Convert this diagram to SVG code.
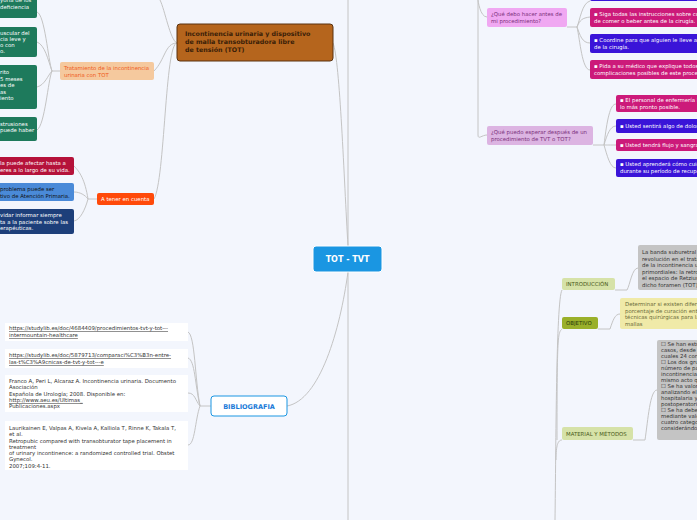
<svg xmlns="http://www.w3.org/2000/svg" width="697" height="520" viewBox="0 0 697 520">
<style>
text{font-family:"DejaVu Sans",Verdana,sans-serif;font-size:5.4px}
.c{fill:none;stroke:#c4c4c4;stroke-width:1}
.w{fill:#fff}
.b{font-weight:bold}
</style>
<rect width="697" height="520" fill="#f3f6fd"/>
<g id="connectors">
<path class="c" d="M348 0V520" stroke-width="1.5"/>
<path class="c" d="M348 246C344 180 340 60 333 43"/>
<path class="c" d="M348 272C340 330 320 400 287 406"/>
<path class="c" d="M177 43C165 43 165 60 154 71M177 43C165 43 165 180 154 199M177 43C170 40 165 10 160 0"/>
<path class="c" d="M60 71H52M52 71C48 60 45 15 37 12M52 71C48 60 45 45 37 42M52 71C48 75 45 85 37 87M52 71C48 80 45 125 37 130"/>
<path class="c" d="M97 199H88M88 199C85 180 80 172 74 166M88 199C85 195 80 192 74 192M88 199C85 210 80 220 74 221"/>
<path class="c" d="M211 406H200M200 406C195 380 195 335 188 332M200 406C195 385 195 360 188 358M200 406C195 400 195 393 188 393M200 406C195 420 195 445 188 445"/>
<path class="c" d="M487 17C480 17 478 0 478 0M478 0V135C478 140 482 135 487 135"/>
<path class="c" d="M567 27H577M577 27C580 20 582 3 590 1M577 27C580 20 582 18 590 17M577 27C580 35 582 43 590 43M577 27C580 40 582 70 590 70"/>
<path class="c" d="M593 145H604M604 145C607 120 610 104 616 104M604 145C607 135 610 126 616 126M604 145C607 145 610 145 616 145M604 145C607 155 610 168 616 168"/>
<path class="c" d="M555 520C556 450 556 300 562 290M557 440C557 332 558 333 562 329M556 460C556 445 558 440 562 440"/>
<path class="c" d="M615 290H627M627 290C630 285 632 268 638 268M598 329H610M610 329C613 320 615 314 620 314M633 440H645M645 440C648 420 650 390 657 390"/>
</g>
<g id="center"><rect x="313" y="246" width="69" height="26" rx="3" fill="#1a96e2" stroke="#fff" stroke-width="1"/><text x="347.5" y="262" text-anchor="middle" class="b" fill="#fff" style="font-size:8px">TOT - TVT</text></g>
<g id="incont"><rect x="177" y="24" width="156" height="37" rx="3" fill="#b5651d" stroke="#5a3210"/><text x="185" y="36" class="b" fill="#3a2008" style="font-size:6.3px"><tspan x="185">Incontinencia urinaria y dispositivo</tspan><tspan x="185" dy="8">de malla transobturadora libre</tspan><tspan x="185" dy="8">de tensión (TOT)</tspan></text></g>
<g id="trat"><rect x="60" y="62" width="94" height="18" rx="2" fill="#f5c99e"/><text fill="#ef5a21"><tspan x="64" y="69.5">Tratamiento de la incontinencia</tspan><tspan x="64" dy="7">urinaria con TOT</tspan></text></g>
<g id="g1"><rect x="-3" y="-5" width="40" height="23" rx="2" fill="#1e7a5c"/><text class="w"><tspan x="0" y="2">yoría de los</tspan><tspan x="0" y="9">deficiencia</tspan></text></g>
<g id="g2"><rect x="-3" y="27" width="40" height="30" rx="2" fill="#1e7a5c"/><text class="w"><tspan x="0" y="35">uscular del</tspan><tspan x="0" y="41">cia leve y</tspan><tspan x="0" y="47">o con</tspan><tspan x="0" y="53">o.</tspan></text></g>
<g id="g3"><rect x="-3" y="65" width="40" height="44" rx="2" fill="#1e7a5c"/><text class="w"><tspan x="0" y="74">rito</tspan><tspan x="0" y="80.5">5 meses</tspan><tspan x="0" y="87">es de</tspan><tspan x="0" y="93.5">as</tspan><tspan x="0" y="100">iento</tspan></text></g>
<g id="g4"><rect x="-3" y="117" width="40" height="24" rx="2" fill="#1e7a5c"/><text class="w"><tspan x="0" y="126">strusiones</tspan><tspan x="0" y="132">puede haber</tspan></text></g>
<g id="atener"><rect x="97" y="193" width="57" height="12" rx="2" fill="#ff4a0a"/><text x="101" y="201" class="w">A tener en cuenta</text></g>
<g id="r1"><rect x="-3" y="157" width="77" height="18" rx="2" fill="#b5123a"/><text class="w"><tspan x="0" y="165">la puede afectar hasta a</tspan><tspan x="0" y="172">eres a lo largo de su vida.</tspan></text></g>
<g id="r2"><rect x="-3" y="183" width="77" height="18" rx="2" fill="#4a8ad8"/><text fill="#111"><tspan x="0" y="191">problema puede ser</tspan><tspan x="0" y="198">tivo de Atención Primaria.</tspan></text></g>
<g id="r3"><rect x="-3" y="209" width="77" height="25" rx="2" fill="#1d3f7a"/><text class="w"><tspan x="0" y="217">vidar informar siempre</tspan><tspan x="0" y="223.5">ta a la paciente sobre las</tspan><tspan x="0" y="230">erapéuticas.</tspan></text></g>
<g id="biblio"><rect x="211" y="396" width="76" height="20" rx="3" fill="#fff" stroke="#1a96e2"/><text x="249" y="409" text-anchor="middle" class="b" fill="#1a7ad8" style="font-size:6.5px">BIBLIOGRAFIA</text></g>
<g id="b1"><rect x="5" y="323" width="183" height="18" fill="#fff"/><text fill="#333" text-decoration="underline"><tspan x="9" y="330">https://studylib.es/doc/4684409/procedimientos-tvt-y-tot---</tspan><tspan x="9" y="337">intermountain-healthcare</tspan></text></g>
<g id="b2"><rect x="5" y="349" width="183" height="19" fill="#fff"/><text fill="#333" text-decoration="underline"><tspan x="9" y="357">https://studylib.es/doc/5879713/comparaci%C3%B3n-entre-</tspan><tspan x="9" y="364">las-t%C3%A9cnicas-de-tvt-y-tot---e</tspan></text></g>
<g id="b3"><rect x="5" y="375" width="183" height="37" fill="#fff"/><text fill="#333"><tspan x="9" y="383">Franco A, Peri L, Alcaraz A. Incontinencia urinaria. Documento</tspan><tspan x="9" y="389">Asociación</tspan><tspan x="9" y="395.5">Española de Urología; 2008. Disponible en:</tspan><tspan x="9" y="402" text-decoration="underline">http://www.aeu.es/Ultimas_</tspan><tspan x="9" y="408">Publicaciones.aspx</tspan></text></g>
<g id="b4"><rect x="5" y="421" width="183" height="49" fill="#fff"/><text fill="#333"><tspan x="9" y="430">Laurikainen E, Valpas A, Kivela A, Kalliola T, Rinne K, Takala T,</tspan><tspan x="9" y="436">et al.</tspan><tspan x="9" y="442.5">Retropubic compared with transobturator tape placement in</tspan><tspan x="9" y="448.5">treatment</tspan><tspan x="9" y="455">of urinary incontinence: a randomized controlled trial. Obstet</tspan><tspan x="9" y="461">Gynecol.</tspan><tspan x="9" y="467.5">2007;109:4-11.</tspan></text></g>
<g id="antes"><rect x="487" y="8" width="80" height="19" rx="2" fill="#f0a8f2"/><text fill="#7a2f7a"><tspan x="491" y="16">¿Qué debo hacer antes de</tspan><tspan x="491" y="23">mi procedimiento?</tspan></text></g>
<g id="a0"><rect x="590" y="-5" width="110" height="6" rx="2" fill="#3a14d8"/></g>
<g id="a1"><rect x="590" y="8" width="110" height="19" rx="2" fill="#cc1a7a"/><text class="w"><tspan x="594" y="16">▪ Siga todas las instrucciones sobre cuándo dejar</tspan><tspan x="594" y="23">de comer o beber antes de la cirugía.</tspan></text></g>
<g id="a2"><rect x="590" y="34" width="110" height="19" rx="2" fill="#3a14d8"/><text class="w"><tspan x="594" y="42">▪ Coordine para que alguien le lleve a casa después</tspan><tspan x="594" y="49">de la cirugía.</tspan></text></g>
<g id="a3"><rect x="590" y="60" width="110" height="19" rx="2" fill="#cc1a7a"/><text class="w"><tspan x="594" y="68">▪ Pida a su médico que explique todos los riesgos y</tspan><tspan x="594" y="75">complicaciones posibles de este procedimiento.</tspan></text></g>
<g id="despues"><rect x="487" y="126" width="106" height="19" rx="2" fill="#dcb4e2"/><text fill="#7a2f7a"><tspan x="491" y="134">¿Qué puedo esperar después de un</tspan><tspan x="491" y="141">procedimiento de TVT o TOT?</tspan></text></g>
<g id="d1"><rect x="616" y="95" width="84" height="17" rx="2" fill="#cc1a7a"/><text class="w"><tspan x="620" y="102">▪ El personal de enfermería le ayudará</tspan><tspan x="620" y="109">lo más pronto posible.</tspan></text></g>
<g id="d2"><rect x="616" y="119" width="84" height="14" rx="2" fill="#3a14d8"/><text class="w" x="620" y="128">▪ Usted sentirá algo de dolor</text></g>
<g id="d3"><rect x="616" y="139" width="84" height="12" rx="2" fill="#cc1a7a"/><text class="w" x="620" y="147">▪ Usted tendrá flujo y sangrado</text></g>
<g id="d4"><rect x="616" y="159" width="84" height="18" rx="2" fill="#3a14d8"/><text class="w"><tspan x="620" y="166">▪ Usted aprenderá cómo cuidarse</tspan><tspan x="620" y="173">durante su período de recuperación</tspan></text></g>
<g id="intro"><rect x="562" y="278" width="53" height="12" rx="2" fill="#d6e2a8"/><text x="566" y="286" fill="#4a5a1a">INTRODUCCIÓN</text></g>
<g id="intro-t"><rect x="638" y="245" width="62" height="45" rx="2" fill="#c4c4c4"/><text fill="#333"><tspan x="642" y="254">La banda suburetral supone una</tspan><tspan x="642" y="260.5">revolución en el tratamiento</tspan><tspan x="642" y="267">de la incontinencia urinaria. Dos vías</tspan><tspan x="642" y="273.5">primordiales: la retropúbica a través de</tspan><tspan x="642" y="280">el espacio de Retzius (TVT) y a través del</tspan><tspan x="642" y="286.5">dicho foramen (TOT)</tspan></text></g>
<g id="obj"><rect x="562" y="317" width="36" height="12" rx="2" fill="#9ab02a"/><text x="566" y="325" fill="#2a3a0a">OBJETIVO</text></g>
<g id="obj-t"><rect x="620" y="298" width="80" height="31" rx="2" fill="#f0eaa8"/><text fill="#6a6a3a"><tspan x="625" y="306">Determinar si existen diferencias en el</tspan><tspan x="625" y="312.5">porcentaje de curación entre las dos</tspan><tspan x="625" y="319">técnicas quirúrgicas para la colocación de</tspan><tspan x="625" y="325.5">mallas</tspan></text></g>
<g id="mat"><rect x="562" y="427" width="71" height="13" rx="2" fill="#d6e2a8"/><text x="566" y="436" fill="#4a5a1a">MATERIAL Y MÉTODOS</text></g>
<g id="mat-t"><rect x="657" y="340" width="43" height="100" rx="2" fill="#c4c4c4"/><text fill="#333"><tspan x="661" y="346">☐ Se han estudiado</tspan><tspan x="661" y="352">casos, desde</tspan><tspan x="661" y="358">cuales 24 con</tspan><tspan x="661" y="364">☐ Los dos grupos</tspan><tspan x="661" y="370">número de pacientes</tspan><tspan x="661" y="376">incontinencia</tspan><tspan x="661" y="382">mismo acto q</tspan><tspan x="661" y="388">☐ Se ha valorado</tspan><tspan x="661" y="394">analizando el</tspan><tspan x="661" y="400">hospitalaria y</tspan><tspan x="661" y="406">postoperatorio</tspan><tspan x="661" y="412">☐ Se ha debe</tspan><tspan x="661" y="418">mediante valo</tspan><tspan x="661" y="424">cuatro catego</tspan><tspan x="661" y="430">considerándo</tspan></text></g>
</svg>
